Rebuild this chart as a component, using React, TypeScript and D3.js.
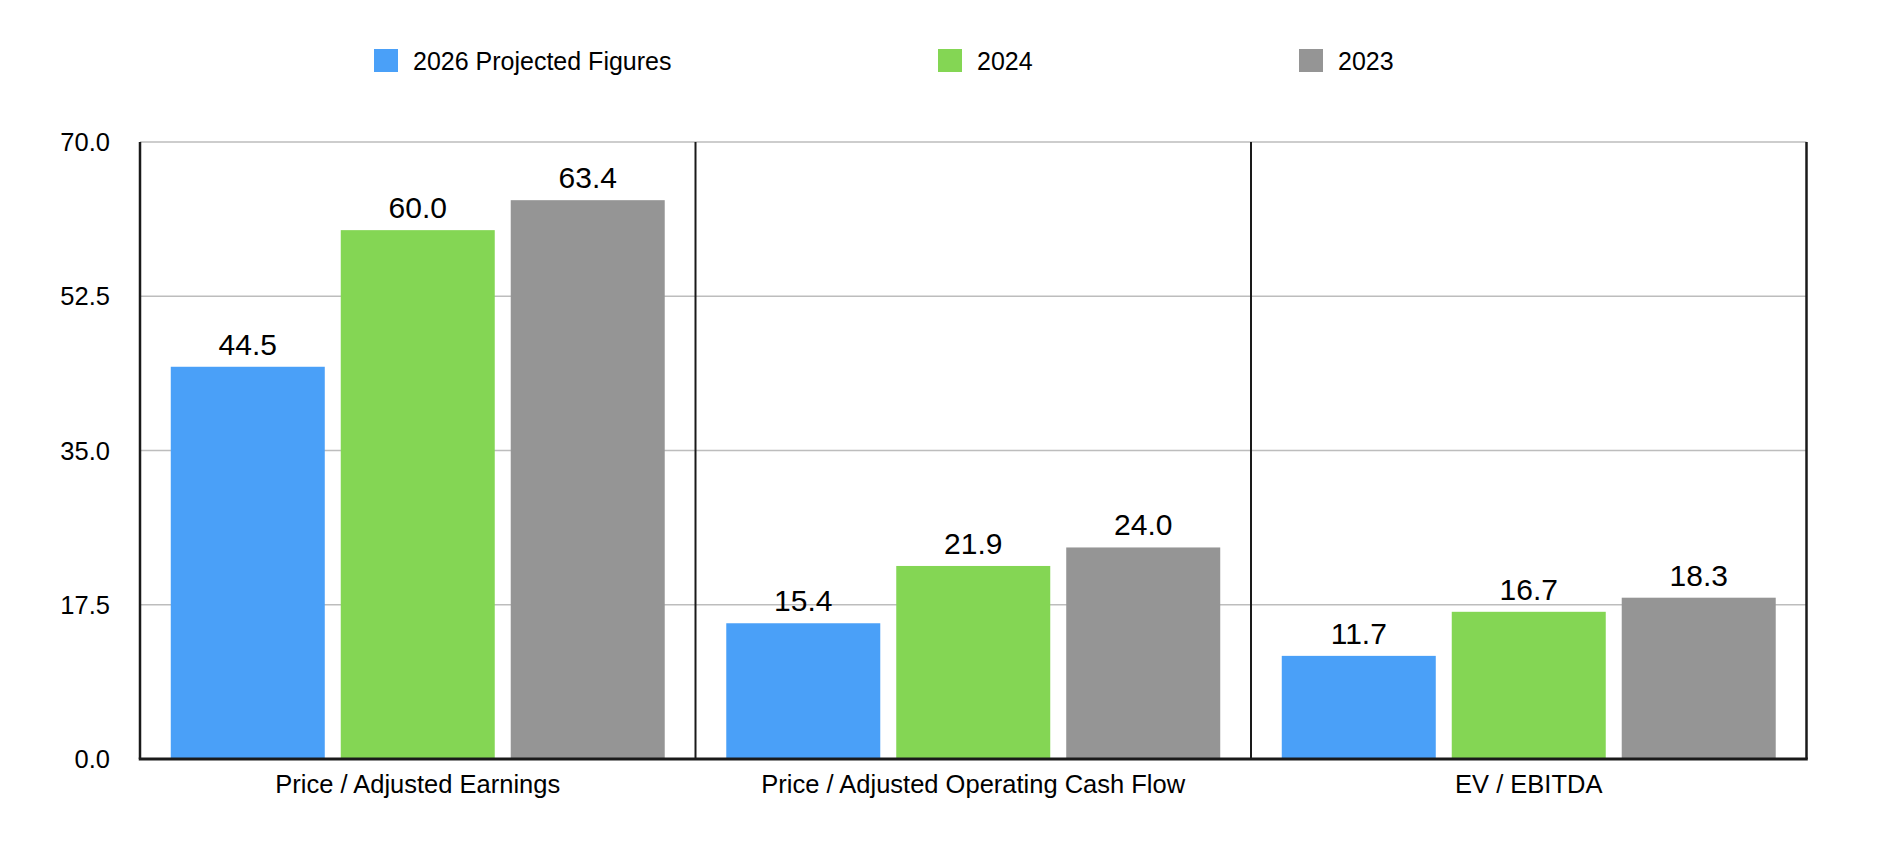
import React from "react";
import * as d3 from "d3";

const categories = ["Price / Adjusted Earnings", "Price / Adjusted Operating Cash Flow", "EV / EBITDA"];
const seriesNames = ["2026 Projected Figures", "2024", "2023"];
const seriesColors = ["#4aa0f8", "#84d654", "#959595"];
const values2026 = [44.5, 15.4, 11.7];
const values2024 = [60.0, 21.9, 16.7];
const values2023 = [63.4, 24.0, 18.3];
const yTicks = [0, 17.5, 35, 52.5, 70];
const legendX = [374, 938, 1299];

const W = 1888;
const H = 868;
const left = 140;
const right = 1806.5;
const top = 142;
const bottom = 759;
const FONT = "'Liberation Sans', Arial, Helvetica, sans-serif";

export default function App() {
  const seriesValues = [values2026, values2024, values2023];
  const x0 = d3.scaleBand<string>().domain(categories).range([left, right]).paddingInner(0).paddingOuter(0);
  const x1 = d3
    .scaleBand<string>()
    .domain(seriesNames)
    .range([0, x0.bandwidth()])
    .paddingInner(0.094)
    .paddingOuter(0.181);
  const y = d3.scaleLinear().domain([0, 70]).range([bottom, top]);

  return (
    <div style={{ position: "absolute", left: 0, top: 0 }}>
      <svg width={W} height={H} viewBox={`0 0 ${W} ${H}`} style={{ display: "block", background: "#fff" }}>
        {/* legend */}
        {seriesNames.map((s, i) => (
          <g key={s}>
            <rect x={legendX[i]} y={49} width={24} height={23} fill={seriesColors[i]} />
            <text x={legendX[i] + 39} y={70} fontFamily={FONT} fontSize={25} fill="#000">
              {s}
            </text>
          </g>
        ))}
        {/* gridlines */}
        {yTicks.slice(1).map((t) => (
          <line key={t} x1={left} x2={right} y1={y(t)} y2={y(t)} stroke="#bdbdbd" strokeWidth={1.5} />
        ))}
        {/* y tick labels */}
        {yTicks.map((t) => (
          <text
            key={"l" + t}
            x={110}
            y={y(t) + 9}
            textAnchor="end"
            fontFamily={FONT}
            fontSize={25.5}
            fill="#000"
          >
            {d3.format(".1f")(t)}
          </text>
        ))}
        {/* bars */}
        {categories.map((c, ci) => (
          <g key={c} transform={`translate(${x0(c)},0)`}>
            {seriesNames.map((s, si) => {
              const v = seriesValues[si][ci];
              const bx = x1(s)!;
              return (
                <g key={s}>
                  <rect x={bx} y={y(v)} width={x1.bandwidth()} height={bottom - y(v)} fill={seriesColors[si]} />
                  <text
                    x={bx + x1.bandwidth() / 2}
                    y={y(v) - 12}
                    textAnchor="middle"
                    fontFamily={FONT}
                    fontSize={30}
                    fill="#000"
                  >
                    {d3.format(".1f")(v)}
                  </text>
                </g>
              );
            })}
            <text
              x={x0.bandwidth() / 2}
              y={793}
              textAnchor="middle"
              fontFamily={FONT}
              fontSize={25.5}
              fill="#000"
            >
              {c}
            </text>
          </g>
        ))}
        {/* separators */}
        {categories.slice(1).map((c) => (
          <line key={"s" + c} x1={x0(c)} x2={x0(c)} y1={top} y2={bottom} stroke="#1a1a1a" strokeWidth={2} />
        ))}
        {/* frame: left, right, bottom */}
        <line x1={left} x2={left} y1={top} y2={bottom} stroke="#1a1a1a" strokeWidth={2.5} />
        <line x1={right} x2={right} y1={top} y2={bottom} stroke="#1a1a1a" strokeWidth={2.5} />
        <line x1={left - 1.25} x2={right + 1.25} y1={bottom} y2={bottom} stroke="#1a1a1a" strokeWidth={3} />
      </svg>
    </div>
  );
}
